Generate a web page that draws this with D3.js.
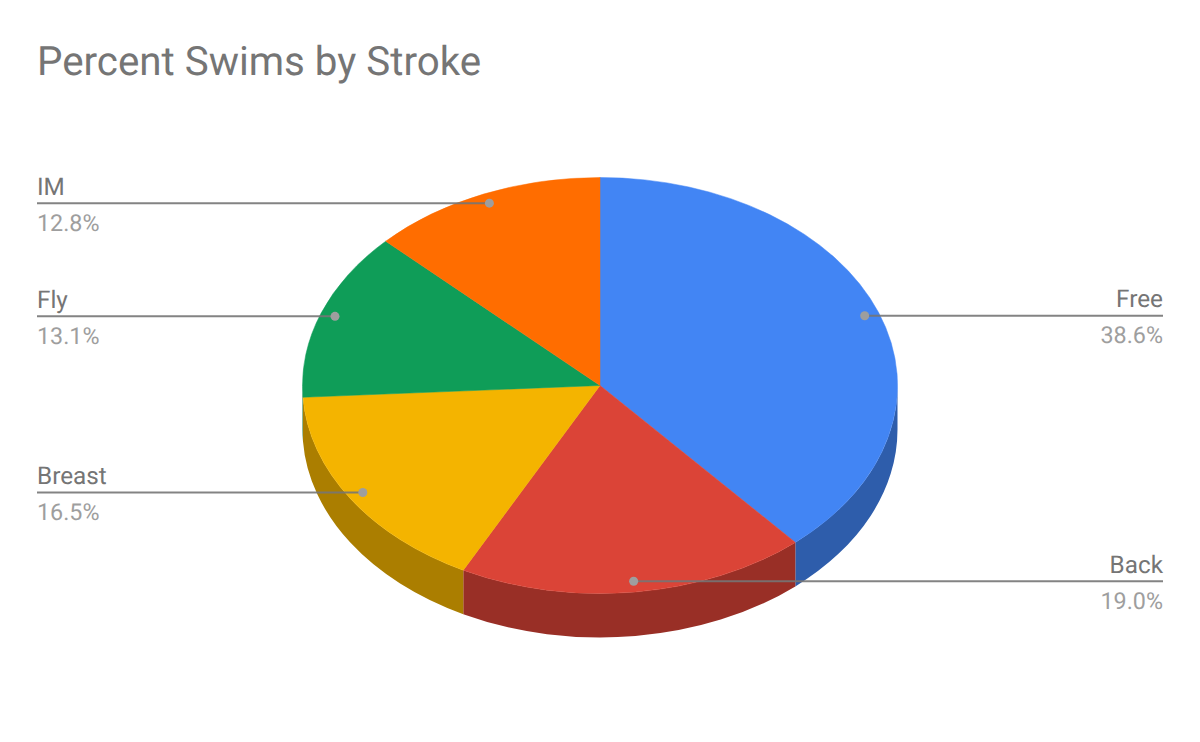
<!DOCTYPE html>
<html>
<head>
<meta charset="utf-8">
<script src="https://cdn.jsdelivr.net/npm/d3@7"></script>
<style>
  html, body { margin: 0; padding: 0; background: #fff; }
  svg { display: block; font-family: Roboto, sans-serif; text-rendering: geometricPrecision; }
</style>
</head>
<body>
<script>
const strokes = ['Free', 'Back', 'Breast', 'Fly', 'IM'];
const percents = [38.6, 19.0, 16.5, 13.1, 12.8];
const topColors = ['#4285f4', '#db4437', '#f4b400', '#0f9d58', '#ff6d00'];
const sideColors = ['#2e5dab', '#992f26', '#ab7e00', '#0b6e3e', '#b34c00'];

const w = 1200;
const h = 742;
const cx = 600;
const cy = 385.5;
const rx = 297.5;
const ry = 208;
const depth = 44;
const labelLeft = 37;
const labelRight = 1163;

const xScale = d3.scaleLinear().domain([-1, 1]).range([cx - rx, cx + rx]);
const yScale = d3.scaleLinear().domain([-1, 1]).range([cy - ry, cy + ry]);
const pt = (a, r = 1) => [xScale(r * Math.sin(a)), yScale(-r * Math.cos(a))];

const pie = d3.pie().sort(null);
const arcs = pie(percents);

const svg = d3.select('body')
    .append('svg')
    .attr('width', w)
    .attr('height', h);

svg.append('text')
    .attr('x', 37)
    .attr('y', 75)
    .attr('fill', '#757575')
    .style('font-size', '40.3px')
    .text('Percent Swims by Stroke');

// side walls, only the front half of the ellipse can be seen
const wallPath = d => {
    const a0 = Math.max(d.startAngle, Math.PI / 2);
    const a1 = Math.min(d.endAngle, Math.PI * 1.5);
    if (a1 <= a0) return null;
    const [x0, y0] = pt(a0);
    const [x1, y1] = pt(a1);
    return `M${x0},${y0}A${rx},${ry} 0 0 1 ${x1},${y1}L${x1},${y1 + depth}A${rx},${ry} 0 0 0 ${x0},${y0 + depth}Z`;
};

svg.selectAll('path.wall')
    .data(arcs)
    .enter()
    .append('path')
    .attr('class', 'wall')
    .attr('d', wallPath)
    .attr('fill', (d, i) => sideColors[i]);

const slicePath = d => {
    const [x0, y0] = pt(d.startAngle);
    const [x1, y1] = pt(d.endAngle);
    const large = d.endAngle - d.startAngle > Math.PI ? 1 : 0;
    return `M${cx},${cy}L${x0},${y0}A${rx},${ry} 0 ${large} 1 ${x1},${y1}Z`;
};

svg.selectAll('path.slice')
    .data(arcs)
    .enter()
    .append('path')
    .attr('class', 'slice')
    .attr('d', slicePath)
    .attr('fill', (d, i) => topColors[i])
    .attr('stroke', (d, i) => topColors[i])
    .attr('stroke-width', 0.5);

// leader lines and labels
const labels = svg.selectAll('g.label')
    .data(arcs)
    .enter()
    .append('g')
    .attr('class', 'label')
    .each(function (d, i) {
        const mid = (d.startAngle + d.endAngle) / 2;
        const [dx, py] = pt(mid, 0.95);
        const dy = py - 0.5;
        const right = mid < Math.PI;
        const lx = right ? labelRight : labelLeft;
        const g = d3.select(this);
        g.append('line')
            .attr('x1', dx)
            .attr('y1', dy)
            .attr('x2', lx)
            .attr('y2', dy)
            .attr('stroke', '#757575')
            .attr('stroke-opacity', 0.9)
            .attr('stroke-width', 2);
        g.append('circle')
            .attr('cx', dx)
            .attr('cy', dy)
            .attr('r', 4.5)
            .attr('fill', '#9e9e9e');
        g.append('text')
            .attr('x', lx)
            .attr('y', dy - 8.5)
            .attr('text-anchor', right ? 'end' : 'start')
            .attr('fill', '#757575')
            .style('font-size', '24.3px')
            .text(strokes[i]);
        g.append('text')
            .attr('x', lx)
            .attr('y', dy + 27.5)
            .attr('text-anchor', right ? 'end' : 'start')
            .attr('fill', '#9e9e9e')
            .style('font-size', '23.3px')
            .text(percents[i].toFixed(1) + '%');
    });
</script>
</body>
</html>
